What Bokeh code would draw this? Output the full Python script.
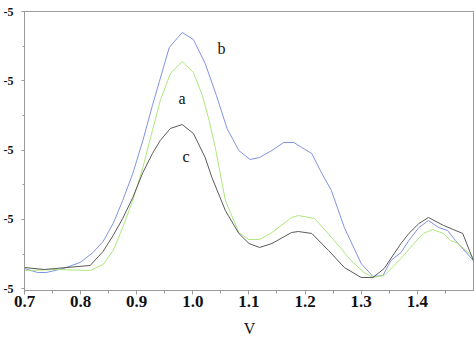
from bokeh.plotting import figure
from bokeh.models import FixedTicker, PrintfTickFormatter, ColumnDataSource
from bokeh.core.properties import value
from bokeh.embed import file_html
from bokeh.resources import INLINE

# Curve b (blue)
b_x = [0.700, 0.723, 0.739, 0.769, 0.799, 0.822, 0.840, 0.858, 0.875, 0.893, 0.911, 0.928,
       0.958, 0.981, 1.001, 1.022, 1.042, 1.061, 1.082, 1.102, 1.119, 1.141, 1.162, 1.180,
       1.194, 1.212, 1.229, 1.247, 1.270, 1.300, 1.321, 1.339, 1.353, 1.371, 1.385, 1.403,
       1.420, 1.438, 1.454, 1.468, 1.500]
b_y = [1.291, 1.234, 1.234, 1.291, 1.378, 1.522, 1.680, 1.941, 2.273, 2.662, 3.139, 3.644,
       4.481, 4.697, 4.596, 4.250, 3.788, 3.312, 2.994, 2.864, 2.893, 2.994, 3.110, 3.110,
       3.038, 2.951, 2.677, 2.417, 1.883, 1.364, 1.176, 1.190, 1.407, 1.522, 1.696, 1.883,
       1.984, 1.883, 1.840, 1.696, 1.407]

# Curve a (green)
a_x = [0.700, 0.758, 0.817, 0.840, 0.858, 0.875, 0.893, 0.911, 0.928, 0.942, 0.960, 0.981,
       1.001, 1.017, 1.029, 1.040, 1.058, 1.082, 1.100, 1.119, 1.141, 1.176, 1.188, 1.217,
       1.252, 1.282, 1.305, 1.321, 1.341, 1.371, 1.394, 1.411, 1.427, 1.447, 1.459, 1.473,
       1.500]
a_y = [1.263, 1.277, 1.263, 1.349, 1.551, 1.883, 2.273, 2.749, 3.283, 3.716, 4.105, 4.278,
       4.120, 3.788, 3.427, 3.038, 2.273, 1.811, 1.709, 1.709, 1.811, 2.027, 2.056, 2.013,
       1.696, 1.407, 1.234, 1.162, 1.190, 1.436, 1.652, 1.797, 1.854, 1.797, 1.696, 1.652,
       1.450]

# Curve c (dark grey)
c_x = [0.700, 0.735, 0.817, 0.840, 0.858, 0.875, 0.893, 0.911, 0.928, 0.942, 0.960, 0.981,
       1.001, 1.022, 1.034, 1.058, 1.082, 1.100, 1.119, 1.141, 1.176, 1.188, 1.212, 1.242,
       1.270, 1.300, 1.321, 1.341, 1.353, 1.371, 1.385, 1.403, 1.420, 1.447, 1.481, 1.500]
c_y = [1.306, 1.277, 1.335, 1.537, 1.768, 2.013, 2.316, 2.677, 2.951, 3.139, 3.312, 3.369,
       3.240, 2.893, 2.605, 2.128, 1.797, 1.652, 1.595, 1.652, 1.811, 1.825, 1.797, 1.551,
       1.306, 1.162, 1.162, 1.291, 1.436, 1.652, 1.797, 1.941, 2.027, 1.912, 1.797, 1.407]

# Curve labels
label_text = ["b", "a", "c"]
label_x = [1.051, 0.981, 0.988]
label_y = [4.466, 3.745, 2.908]

x_ticks = [0.7, 0.8, 0.9, 1.0, 1.1, 1.2, 1.3, 1.4]
x_minor = [0.75, 0.85, 0.95, 1.05, 1.15, 1.25, 1.35, 1.45]
y_ticks = [1, 2, 3, 4, 5]
y_minor = [1.5, 2.5, 3.5, 4.5]
y_labels = ["-5", "-5", "-5", "-5", "-5"]

p = figure(width=474, height=358, output_backend="svg", toolbar_location=None,
           x_range=(0.7, 1.502), y_range=(0.974, 5.0),
           min_border_left=21, min_border_right=0, min_border_top=11, min_border_bottom=68)
p.grid.visible = False
p.outline_line_color = "#9a9a9a"
p.background_fill_color = "white"
p.border_fill_color = "white"

p.line(b_x, b_y, line_color="#7f93e0", line_width=1)
p.line(a_x, a_y, line_color="#aee67e", line_width=1)
p.line(c_x, c_y, line_color="#5a5a5a", line_width=1)

src = ColumnDataSource(dict(x=label_x, y=label_y, t=label_text))
p.text(x="x", y="y", text="t", source=src, text_font=value("Liberation Serif"),
       text_font_size="16px", text_align="center", text_baseline="middle", text_color="#111111")

xa = p.xaxis[0]
xa.ticker = FixedTicker(ticks=x_ticks, minor_ticks=x_minor)
xa.formatter = PrintfTickFormatter(format="%.1f")
xa.major_label_text_font = "Liberation Serif"
xa.major_label_text_font_style = "bold"
xa.major_label_text_font_size = "17px"
xa.major_label_text_color = "#111111"
xa.major_label_standoff = 1
xa.axis_label = "V"
xa.axis_label_text_font = "Liberation Serif"
xa.axis_label_text_font_style = "normal"
xa.axis_label_text_font_size = "16px"
xa.axis_label_text_color = "#111111"
xa.axis_label_standoff = 10
xa.axis_line_color = "#9a9a9a"
xa.major_tick_line_color = "#9a9a9a"
xa.minor_tick_line_color = "#9a9a9a"
xa.major_tick_in = 0
xa.major_tick_out = 4
xa.minor_tick_in = 0
xa.minor_tick_out = 3

ya = p.yaxis[0]
ya.ticker = FixedTicker(ticks=y_ticks, minor_ticks=y_minor)
ya.major_label_overrides = {t: l for t, l in zip(y_ticks, y_labels)}
ya.major_label_text_font = "Liberation Serif"
ya.major_label_text_font_style = "bold"
ya.major_label_text_font_size = "12px"
ya.major_label_text_color = "#111111"
ya.major_label_standoff = 8
ya.axis_line_color = "#9a9a9a"
ya.major_tick_line_color = "#9a9a9a"
ya.minor_tick_line_color = "#9a9a9a"
ya.major_tick_in = 0
ya.major_tick_out = 3
ya.minor_tick_in = 0
ya.minor_tick_out = 2

open("out.html", "w").write(file_html(p, INLINE))
